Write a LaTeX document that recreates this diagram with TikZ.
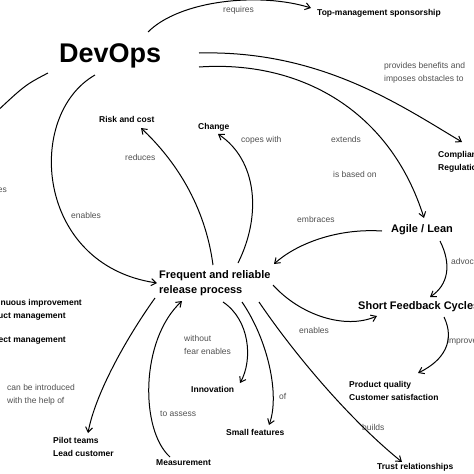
\documentclass[tikz,border=0pt]{standalone}
\usepackage{fontspec}
\setmainfont{Liberation Sans}
\usetikzlibrary{arrows.meta}
\definecolor{labelgray}{HTML}{505050}
\begin{document}
\begin{tikzpicture}[x=1pt,y=-1pt,
  concept/.style={font=\fontsize{8.5}{12.8}\selectfont\bfseries, inner sep=0pt, anchor=base west, align=left},
  bigconcept/.style={font=\fontsize{11}{15}\selectfont\bfseries, inner sep=0pt, anchor=base west, align=left},
  lbl/.style={font=\fontsize{8.5}{12.8}\selectfont, text=labelgray, inner sep=0pt, anchor=base west, align=left},
  rel/.style={line width=1pt, -{Straight Barb[length=5pt,width=7pt]}},
  plainrel/.style={line width=1pt}]
\path[use as bounding box] (0,0) rectangle (474,474);
\clip (0,0) rectangle (474,474);

% concepts (for multi-line nodes the base anchor is on the last line)
\node[font=\fontsize{27}{30}\selectfont\bfseries, inner sep=0pt, anchor=base west] (devops) at (59,62) {DevOps};
\node[concept] (topmgmt) at (317,15) {Top-management sponsorship};
\node[concept] (compl) at (438,170) {Compliance\\Regulations};
\node[concept] (risk) at (99,122) {Risk and cost};
\node[concept] (change) at (198,129) {Change};
\node[bigconcept] (freq) at (159,293) {Frequent and reliable\\release process};
\node[bigconcept] (agile) at (391,232) {Agile / Lean};
\node[bigconcept] (sfc) at (358,309) {Short Feedback Cycles};
\node[concept] (pq) at (349,400) {Product quality\\Customer satisfaction};
\node[concept] (trust) at (377,469) {Trust relationships};
\node[concept] (small) at (226,435) {Small features};
\node[concept] (innov) at (191,392) {Innovation};
\node[concept] (meas) at (156,465) {Measurement};
\node[concept] (pilot) at (53,456) {Pilot teams\\Lead customer};
\node[concept, anchor=base east] (cont) at (82,318) {Continuous improvement\\Product management};
\node[concept, anchor=base east] (proj) at (66,342) {Project management};

% labels
\node[lbl, anchor=base east] (lblleft) at (7,192) {es};
\node[lbl] (lreq) at (223,12) {requires};
\node[lbl] (lprov) at (384,81) {provides benefits and\\imposes obstacles to};
\node[lbl] (lcopes) at (241,142) {copes with};
\node[lbl] (lext) at (331,142) {extends};
\node[lbl] (lbased) at (333,177) {is based on};
\node[lbl] (lred) at (125,160) {reduces};
\node[lbl] (len1) at (71,218) {enables};
\node[lbl] (lemb) at (297,222) {embraces};
\node[lbl] (ladv) at (451,264) {advocates};
\node[lbl] (len2) at (299,333) {enables};
\node[lbl] (limp) at (447,343) {improves};
\node[lbl] (lwith) at (184,354) {without\\fear enables};
\node[lbl] (lof) at (279,399) {of};
\node[lbl] (lbuild) at (362,430) {builds};
\node[lbl] (lassess) at (160,416) {to assess};
\node[lbl] (lintro) at (7,403) {can be introduced\\with the help of};

\coordinate (leftend) at (-8,116);

% connectors
\draw[rel] ([shift={(89,-30)}]devops.base west) .. controls (180,0) and (260,-8) .. ([shift={(-6,-7)}]topmgmt.base west);
\draw[rel] ([shift={(140,-9)}]devops.base west) .. controls (320,50) and (400,105) .. ([shift={(24,-28)}]compl.base west);
\draw[rel] ([shift={(140,5)}]devops.base west) .. controls (300,60) and (390,110) .. ([shift={(33,-14)}]agile.base west);
\draw[rel] ([shift={(36,13)}]devops.base west) .. controls (25,115) and (35,265) .. ([shift={(-2,-10)}]freq.base west);
\draw[plainrel] ([shift={(-11,11)}]devops.base west) .. controls (25,85) .. (leftend);
\draw[rel] ([shift={(54,-28)}]freq.base west) .. controls (205,205) and (175,160) .. ([shift={(42,6)}]risk.base west);
\draw[rel] ([shift={(79,-30)}]freq.base west) .. controls (262,215) and (257,160) .. ([shift={(20,5)}]change.base west);
\draw[rel] ([shift={(-9,-1)}]agile.base west) .. controls (335,228) and (295,245) .. ([shift={(115,-29)}]freq.base west);
\draw[rel] ([shift={(49,9)}]agile.base west) .. controls (452,265) and (448,285) .. ([shift={(72,-12)}]sfc.base west);
\draw[rel] ([shift={(114,-8)}]freq.base west) .. controls (300,315) and (345,330) .. ([shift={(19,7)}]sfc.base west);
\draw[rel] ([shift={(86,8)}]sfc.base west) .. controls (455,340) and (445,360) .. ([shift={(69,-27)}]pq.base west);
\draw[rel] ([shift={(-4,5)}]freq.base west) .. controls (125,340) and (95,395) .. ([shift={(35,-23)}]pilot.base west);
\draw[rel] ([shift={(14,-8)}]meas.base west) .. controls (140,430) and (140,340) .. ([shift={(23,8)}]freq.base west);
\draw[rel] ([shift={(64,9)}]freq.base west) .. controls (250,320) and (253,360) .. ([shift={(49,-9)}]innov.base west);
\draw[rel] ([shift={(83,9)}]freq.base west) .. controls (268,340) and (280,395) .. ([shift={(43,-10)}]small.base west);
\draw[rel] ([shift={(100,9)}]freq.base west) .. controls (295,355) and (350,420) .. ([shift={(25,-7)}]trust.base west);
\end{tikzpicture}
\end{document}
